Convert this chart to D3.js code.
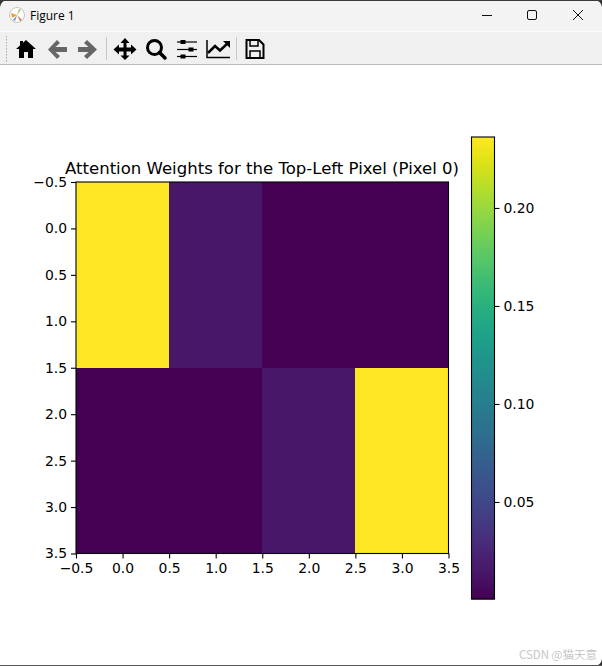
<!DOCTYPE html>
<html>
<head>
<meta charset="utf-8">
<script src="https://cdn.jsdelivr.net/npm/d3@7"></script>
<style>
html, body { margin: 0; padding: 0; background: #fff; overflow: hidden; }
text { font-family: "DejaVu Sans", sans-serif; fill: #000; }
</style>
</head>
<body>
<div id="canvas"></div>
<script>
// values
var rowLabels = [0, 1, 2, 3];
var colLabels = [0, 1, 2, 3];
var weights = [
	[0.2357, 0.0150, 0.0007, 0.0007],
	[0.2357, 0.0150, 0.0007, 0.0007],
	[0.0007, 0.0007, 0.0150, 0.2357],
	[0.0007, 0.0007, 0.0150, 0.2357]
];
var axisTicks = [-0.5, 0, 0.5, 1, 1.5, 2, 2.5, 3, 3.5];
var colorTicks = [0.05, 0.10, 0.15, 0.20];
var colorDomain = [0.0005, 0.2362];
var titleText = "Attention Weights for the Top-Left Pixel (Pixel 0)";

var svg = d3.select("#canvas")
	.append("svg")
	.attr("width",602)
	.attr("height",666)
	.style("display","block");

drawWindow();
drawHeatmap();
drawColorbar();

function drawHeatmap() {
	var x = d3.scaleLinear().domain([-0.5,3.5]).range([76,448.5]);
	var y = d3.scaleLinear().domain([-0.5,3.5]).range([182,553.5]);
	var color = d3.scaleSequential(d3.interpolateViridis).domain(colorDomain);

	var cells = [];
	rowLabels.forEach(function(r){
		colLabels.forEach(function(c){
			cells.push({row:r, col:c, value:weights[r][c]});
		});
	});

	svg.append("g").selectAll("rect")
		.data(cells)
		.enter()
		.append("rect")
		.attr("x",function(d){return x(d.col-0.5);})
		.attr("y",function(d){return y(d.row-0.5);})
		.attr("width",function(d){return x(d.col+0.5)-x(d.col-0.5);})
		.attr("height",function(d){return y(d.row+0.5)-y(d.row-0.5);})
		.attr("fill",function(d){return color(d.value);})
		.attr("shape-rendering","crispEdges");

	var fmt = d3.format(".1f");
	var bottom = svg.append("g")
		.attr("transform","translate(0,553.5)")
		.call(d3.axisBottom(x).tickValues(axisTicks).tickFormat(fmt).tickSize(5).tickPadding(5));
	var left = svg.append("g")
		.attr("transform","translate(76,0)")
		.call(d3.axisLeft(y).tickValues(axisTicks).tickFormat(fmt).tickSize(5).tickPadding(4));
	styleAxis(bottom);
	styleAxis(left);

	svg.append("rect")
		.attr("x",76)
		.attr("y",182)
		.attr("width",372.5)
		.attr("height",371.5)
		.attr("fill","none")
		.attr("stroke","#000")
		.attr("stroke-width",1.1);

	svg.append("text")
		.text(titleText)
		.attr("x",262)
		.attr("y",174)
		.attr("text-anchor","middle")
		.attr("font-size","16.55px");
}

function drawColorbar() {
	var y = d3.scaleLinear().domain(colorDomain).range([599,137]);
	var steps = d3.range(y.range()[1], y.range()[0]);

	svg.append("g").selectAll("rect")
		.data(steps)
		.enter()
		.append("rect")
		.attr("x",471.5)
		.attr("y",function(d){return d;})
		.attr("width",23)
		.attr("height",1.5)
		.attr("fill",function(d){return d3.interpolateViridis((599-d)/462);});

	svg.append("rect")
		.attr("x",471.5)
		.attr("y",137)
		.attr("width",23)
		.attr("height",462)
		.attr("fill","none")
		.attr("stroke","#000")
		.attr("stroke-width",1.1);

	var right = svg.append("g")
		.attr("transform","translate(494.5,0)")
		.call(d3.axisRight(y).tickValues(colorTicks).tickFormat(d3.format(".2f")).tickSize(5).tickPadding(4));
	styleAxis(right);
}

function styleAxis(g) {
	g.select(".domain").remove();
	g.selectAll(".tick line").attr("stroke","#000").attr("stroke-width",1.1);
	g.selectAll(".tick text")
		.attr("font-family","'DejaVu Sans', sans-serif")
		.attr("font-size","13.9px")
		.attr("fill","#000");
}

function drawWindow() {
	// title bar and toolbar
	svg.append("rect").attr("width",602).attr("height",32).attr("fill","#f3f3f3");
	svg.append("rect").attr("y",32).attr("width",602).attr("height",32).attr("fill","#f0f0f0");
	svg.append("rect").attr("y",31).attr("width",602).attr("height",1).attr("fill","#fbfbfb");
	svg.append("rect").attr("y",64).attr("width",602).attr("height",1).attr("fill","#b9b9b9");

	svg.append("text")
		.text("Figure 1")
		.attr("x",30)
		.attr("y",20)
		.style("font-family","'Open Sans', sans-serif")
		.attr("font-size","12px")
		.attr("fill","#111");

	// app icon
	var logo = svg.append("g").attr("transform","translate(17,15)");
	logo.append("circle").attr("r",7.5).attr("fill","#fff").attr("stroke","#c4c4c4");
	logo.append("path").attr("d","M-6,-2L0,0L-5,3Z").attr("fill","#e8a13a");
	logo.append("path").attr("d","M0,0L2,-6L4,-5Z").attr("fill","#9ccf6a");
	logo.append("path").attr("d","M0,0L5,5L3,6Z").attr("fill","#e46a3a");
	logo.append("path").attr("d","M0,0L-2,6L-4,5Z").attr("fill","#5a8fd0");

	// window buttons
	var ctrl = svg.append("g").attr("fill","none").attr("stroke","#111").attr("stroke-width",1);
	ctrl.append("path").attr("d","M482,15.5H492");
	ctrl.append("rect").attr("x",527.5).attr("y",10.5).attr("width",9).attr("height",9).attr("rx",1.5);
	ctrl.append("path").attr("d","M573,10L583,20M583,10L573,20");

	// toolbar grip and separators
	svg.append("g").selectAll("rect")
		.data(d3.range(36,62,3))
		.enter()
		.append("rect")
		.attr("x",6)
		.attr("y",function(d){return d;})
		.attr("width",1)
		.attr("height",1.5)
		.attr("fill","#a8a8a8");
	[106,236].forEach(function(sx){
		svg.append("rect").attr("x",sx).attr("y",37).attr("width",1).attr("height",23).attr("fill","#c8c8c8");
	});

	// toolbar icons
	var icons = svg.append("g");
	icons.append("path")
		.attr("d","M26,40L36,49H33V58H28V52H24V58H19V49H16L20,45.4V41H23V42.8Z")
		.attr("fill","#000");
	icons.append("path")
		.attr("d","M57,40L60,43L55.5,47H67V52H55.5L60,56L57,59L48,49.5Z")
		.attr("fill","#666");
	icons.append("path")
		.attr("d","M87,40L84,43L88.5,47H78V52H88.5L84,56L87,59L97,49.5Z")
		.attr("fill","#666");
	icons.append("path")
		.attr("d","M125,38L129.5,43H126.5V47.5H131V44.5L136.5,49.5L131,54.5V51.5H126.5V55.5H129.5L125,60L120.5,55.5H123.5V51.5H119V54.5L113.5,49.5L119,44.5V47.5H123.5V43H120.5Z")
		.attr("fill","#000");
	icons.append("circle")
		.attr("cx",154.5).attr("cy",47.5).attr("r",7)
		.attr("fill","none").attr("stroke","#000").attr("stroke-width",3);
	icons.append("path")
		.attr("d","M159.5,52.5L165,58")
		.attr("stroke","#000").attr("stroke-width",3.5).attr("stroke-linecap","round");
	[42,49.5,56.5].forEach(function(ly,i){
		var kx = [183,191,183][i];
		icons.append("path")
			.attr("d","M177,"+ly+"H197")
			.attr("stroke","#000").attr("stroke-width",1.2);
		icons.append("rect")
			.attr("x",kx-2.5).attr("y",ly-2).attr("width",5).attr("height",4)
			.attr("fill","#000");
	});
	icons.append("path")
		.attr("d","M207,40V57.5H230")
		.attr("fill","none").attr("stroke","#000").attr("stroke-width",1.5);
	icons.append("path")
		.attr("d","M208,53L215,46L220,50.5L228,43")
		.attr("fill","none").attr("stroke","#000").attr("stroke-width",2.5);
	icons.append("path")
		.attr("d","M223,41H230V48Z")
		.attr("fill","#000");
	icons.append("path")
		.attr("d","M246.5,40H259L263.5,44.5V58H246.5Z")
		.attr("fill","none").attr("stroke","#000").attr("stroke-width",2);
	icons.append("path")
		.attr("d","M250,40V46H258V40M250,58V51H260V58")
		.attr("fill","none").attr("stroke","#000").attr("stroke-width",1.5);

	// watermark
	svg.append("text")
		.text("CSDN @猫天意")
		.attr("x",597)
		.attr("y",659)
		.attr("text-anchor","end")
		.style("font-family","'Noto Sans CJK SC', sans-serif")
		.style("fill","#c6c6c6")
		.attr("font-size","11.5px");

	// screenshot corners
	svg.append("path").attr("d","M0,0H7Q1,1 0,7Z").attr("fill","#333");
	svg.append("path").attr("d","M602,0H595Q601,1 602,7Z").attr("fill","#333");
	svg.append("path").attr("d","M602,666H595Q601,665 602,659Z").attr("fill","#333");
	svg.append("rect").attr("width",602).attr("height",1).attr("fill","#3a3a3a");
	svg.append("rect").attr("y",665).attr("width",602).attr("height",1).attr("fill","#555");
}
</script>
</body>
</html>
